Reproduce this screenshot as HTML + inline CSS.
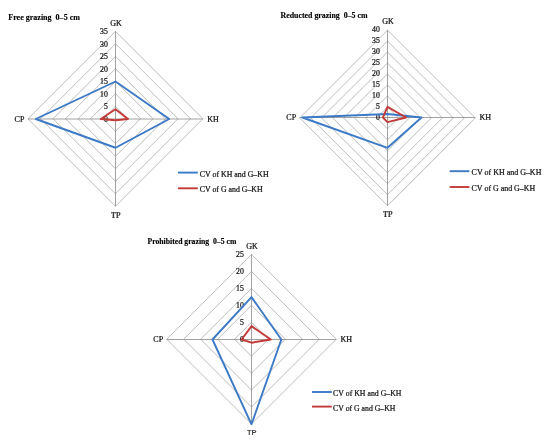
<!DOCTYPE html>
<html><head><meta charset="utf-8"><title>Radar charts</title>
<style>
html,body{margin:0;padding:0;background:#fff;}
svg{display:block;}
text{font-family:"Liberation Serif",serif;fill:#111;}
.num{font-size:7.8px;stroke:#111;stroke-width:0.22px;}
.cat{font-size:8px;stroke:#111;stroke-width:0.22px;}
.leg{font-size:7.9px;stroke:#111;stroke-width:0.22px;}
.title{font-size:8px;font-weight:bold;fill:#000;stroke:#000;stroke-width:0.15px;}
.tpserif{font-size:7.4px;font-weight:bold;fill:#3c3c3c;stroke:#3c3c3c;stroke-width:0.2px;}
.tpsans{font-family:"Liberation Sans",sans-serif;font-size:7.5px;font-weight:bold;fill:#444;}
</style></head><body>
<svg width="550" height="445" viewBox="0 0 550 445">
<rect width="550" height="445" fill="#fff"/>
<polygon points="115.50,106.25 128.00,118.75 115.50,131.25 103.00,118.75" fill="none" stroke="#ababab" stroke-width="0.8"/>
<polygon points="115.50,93.75 140.50,118.75 115.50,143.75 90.50,118.75" fill="none" stroke="#ababab" stroke-width="0.8"/>
<polygon points="115.50,81.25 153.00,118.75 115.50,156.25 78.00,118.75" fill="none" stroke="#ababab" stroke-width="0.8"/>
<polygon points="115.50,68.75 165.50,118.75 115.50,168.75 65.50,118.75" fill="none" stroke="#ababab" stroke-width="0.8"/>
<polygon points="115.50,56.25 178.00,118.75 115.50,181.25 53.00,118.75" fill="none" stroke="#ababab" stroke-width="0.8"/>
<polygon points="115.50,43.75 190.50,118.75 115.50,193.75 40.50,118.75" fill="none" stroke="#ababab" stroke-width="0.8"/>
<polygon points="115.50,31.25 203.00,118.75 115.50,206.25 28.00,118.75" fill="none" stroke="#ababab" stroke-width="0.8"/>
<line x1="115.5" y1="31.25" x2="115.5" y2="206.25" stroke="#8a8a8a" stroke-width="0.8"/>
<line x1="28.0" y1="119" x2="203.0" y2="119" stroke="#8a8a8a" stroke-width="0.8"/>
<text x="107.9" y="121.7" text-anchor="end" class="num">0</text>
<text x="107.9" y="109.2" text-anchor="end" class="num">5</text>
<text x="107.9" y="96.7" text-anchor="end" class="num">10</text>
<text x="107.9" y="84.2" text-anchor="end" class="num">15</text>
<text x="107.9" y="71.7" text-anchor="end" class="num">20</text>
<text x="107.9" y="59.2" text-anchor="end" class="num">25</text>
<text x="107.9" y="46.7" text-anchor="end" class="num">30</text>
<text x="107.9" y="34.2" text-anchor="end" class="num">35</text>
<polygon points="115.50,81.50 169.25,119.00 115.50,147.75 35.75,119.00" fill="none" stroke="#3c79c7" stroke-width="1.9" stroke-linejoin="round"/>
<polygon points="115.50,109.25 128.00,119.00 115.50,120.25 100.75,119.00" fill="none" stroke="#c33b39" stroke-width="1.9" stroke-linejoin="round"/>
<text x="116.0" y="26.1" text-anchor="middle" class="cat">GK</text>
<text x="207.3" y="121.8" class="cat">KH</text>
<text x="24.4" y="121.8" text-anchor="end" class="cat">CP</text>
<text x="115.7" y="217.7" text-anchor="middle" class="tpserif">TP</text>
<text x="8.3" y="20" class="title" textLength="71.6" lengthAdjust="spacingAndGlyphs" xml:space="preserve">Free grazing  0–5 cm</text>
<line x1="178" y1="172.6" x2="197.8" y2="172.6" stroke="#3c79c7" stroke-width="1.9"/>
<line x1="178" y1="188.3" x2="197.8" y2="188.3" stroke="#c33b39" stroke-width="1.9"/>
<text x="199.8" y="176.5" class="leg" textLength="68.8" lengthAdjust="spacingAndGlyphs">CV of KH and G–KH</text>
<text x="199.8" y="192.2" class="leg" textLength="62.8" lengthAdjust="spacingAndGlyphs">CV of G and G–KH</text>
<polygon points="387.50,106.93 398.48,117.90 387.50,128.88 376.52,117.90" fill="none" stroke="#ababab" stroke-width="0.8"/>
<polygon points="387.50,95.95 409.45,117.90 387.50,139.85 365.55,117.90" fill="none" stroke="#ababab" stroke-width="0.8"/>
<polygon points="387.50,84.98 420.43,117.90 387.50,150.82 354.57,117.90" fill="none" stroke="#ababab" stroke-width="0.8"/>
<polygon points="387.50,74.00 431.40,117.90 387.50,161.80 343.60,117.90" fill="none" stroke="#ababab" stroke-width="0.8"/>
<polygon points="387.50,63.03 442.38,117.90 387.50,172.78 332.62,117.90" fill="none" stroke="#ababab" stroke-width="0.8"/>
<polygon points="387.50,52.05 453.35,117.90 387.50,183.75 321.65,117.90" fill="none" stroke="#ababab" stroke-width="0.8"/>
<polygon points="387.50,41.08 464.32,117.90 387.50,194.73 310.68,117.90" fill="none" stroke="#ababab" stroke-width="0.8"/>
<polygon points="387.50,30.10 475.30,117.90 387.50,205.70 299.70,117.90" fill="none" stroke="#ababab" stroke-width="0.8"/>
<line x1="387.5" y1="30.10000000000001" x2="387.5" y2="205.7" stroke="#8a8a8a" stroke-width="0.8"/>
<line x1="299.7" y1="117.5" x2="475.3" y2="117.5" stroke="#8a8a8a" stroke-width="0.8"/>
<text x="379.9" y="120.2" text-anchor="end" class="num">0</text>
<text x="379.9" y="109.2" text-anchor="end" class="num">5</text>
<text x="379.9" y="98.2" text-anchor="end" class="num">10</text>
<text x="379.9" y="87.3" text-anchor="end" class="num">15</text>
<text x="379.9" y="76.3" text-anchor="end" class="num">20</text>
<text x="379.9" y="65.3" text-anchor="end" class="num">25</text>
<text x="379.9" y="54.4" text-anchor="end" class="num">30</text>
<text x="379.9" y="43.4" text-anchor="end" class="num">35</text>
<text x="379.9" y="32.4" text-anchor="end" class="num">40</text>
<polygon points="387.50,113.99 421.52,117.50 387.50,147.79 302.33,117.50" fill="none" stroke="#3c79c7" stroke-width="1.9" stroke-linejoin="round"/>
<polygon points="387.50,106.85 406.16,117.50 387.50,122.11 382.89,117.50" fill="none" stroke="#c33b39" stroke-width="1.9" stroke-linejoin="round"/>
<text x="388.0" y="24.3" text-anchor="middle" class="cat">GK</text>
<text x="479.6" y="120.3" class="cat">KH</text>
<text x="296.1" y="120.3" text-anchor="end" class="cat">CP</text>
<text x="387.7" y="217.0" text-anchor="middle" class="tpserif">TP</text>
<text x="280.5" y="18.4" class="title" textLength="87.0" lengthAdjust="spacingAndGlyphs" xml:space="preserve">Reducted grazing  0–5 cm</text>
<line x1="449.7" y1="171.2" x2="469.4" y2="171.2" stroke="#3c79c7" stroke-width="1.9"/>
<line x1="449.7" y1="187" x2="469.4" y2="187" stroke="#c33b39" stroke-width="1.9"/>
<text x="471.6" y="175.1" class="leg" textLength="69.8" lengthAdjust="spacingAndGlyphs">CV of KH and G–KH</text>
<text x="471.6" y="190.9" class="leg" textLength="63.6" lengthAdjust="spacingAndGlyphs">CV of G and G–KH</text>
<polygon points="251.50,322.24 268.46,339.20 251.50,356.16 234.54,339.20" fill="none" stroke="#ababab" stroke-width="0.8"/>
<polygon points="251.50,305.28 285.42,339.20 251.50,373.12 217.58,339.20" fill="none" stroke="#ababab" stroke-width="0.8"/>
<polygon points="251.50,288.32 302.38,339.20 251.50,390.08 200.62,339.20" fill="none" stroke="#ababab" stroke-width="0.8"/>
<polygon points="251.50,271.36 319.34,339.20 251.50,407.04 183.66,339.20" fill="none" stroke="#ababab" stroke-width="0.8"/>
<polygon points="251.50,254.40 336.30,339.20 251.50,424.00 166.70,339.20" fill="none" stroke="#ababab" stroke-width="0.8"/>
<line x1="251.5" y1="254.39999999999998" x2="251.5" y2="424.0" stroke="#8a8a8a" stroke-width="0.8"/>
<line x1="166.7" y1="339.5" x2="336.3" y2="339.5" stroke="#8a8a8a" stroke-width="0.8"/>
<text x="243.9" y="342.2" text-anchor="end" class="num">0</text>
<text x="243.9" y="325.2" text-anchor="end" class="num">5</text>
<text x="243.9" y="308.3" text-anchor="end" class="num">10</text>
<text x="243.9" y="291.3" text-anchor="end" class="num">15</text>
<text x="243.9" y="274.4" text-anchor="end" class="num">20</text>
<text x="243.9" y="257.4" text-anchor="end" class="num">25</text>
<polygon points="251.50,297.10 281.35,339.50 251.50,424.30 212.49,339.50" fill="none" stroke="#3c79c7" stroke-width="1.9" stroke-linejoin="round"/>
<polygon points="251.50,326.10 270.83,339.50 251.50,342.72 241.66,339.50" fill="none" stroke="#c33b39" stroke-width="1.9" stroke-linejoin="round"/>
<text x="252.0" y="249.3" text-anchor="middle" class="cat">GK</text>
<text x="340.6" y="342.3" class="cat">KH</text>
<text x="163.1" y="342.3" text-anchor="end" class="cat">CP</text>
<text x="251.7" y="435.2" text-anchor="middle" class="tpsans">TP</text>
<text x="147.5" y="243.8" class="title" textLength="88.8" lengthAdjust="spacingAndGlyphs" xml:space="preserve">Prohibited grazing  0–5 cm</text>
<line x1="312" y1="392" x2="331.8" y2="392" stroke="#3c79c7" stroke-width="1.9"/>
<line x1="312" y1="406.6" x2="331.8" y2="406.6" stroke="#c33b39" stroke-width="1.9"/>
<text x="333.1" y="395.9" class="leg" textLength="68.4" lengthAdjust="spacingAndGlyphs">CV of KH and G–KH</text>
<text x="333.1" y="410.5" class="leg" textLength="62.3" lengthAdjust="spacingAndGlyphs">CV of G and G–KH</text>
</svg>
</body></html>
